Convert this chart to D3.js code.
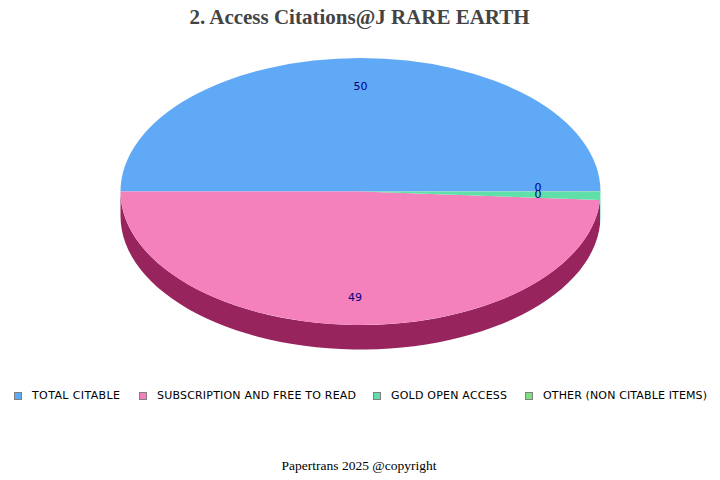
<!DOCTYPE html>
<html>
<head>
<meta charset="utf-8">
<script src="https://cdn.jsdelivr.net/npm/d3@7"></script>
<style>
body { margin: 0; background: #fff; }
</style>
</head>
<body>
<div id="chart"></div>
<script>
var categories = ["TOTAL CITABLE", "SUBSCRIPTION AND FREE TO READ", "GOLD OPEN ACCESS", "OTHER (NON CITABLE ITEMS)"];
var values = [50, 49, 0.95, 0.05];
var valueLabels = ["50", "49", "0", "0"];
var colors = ["#60A9F6", "#F480BC", "#60E0A8", "#80E080"];
var sideColors = ["#2f6fb0", "#98245E", "#60E0A8", "#80E080"];

var width = 720, height = 480;
var cx = 360.5, cy = 191.5, rx = 240, ry = 133.5, depth = 24.5;

var svg = d3.select("#chart")
    .append("svg")
    .attr("width", width)
    .attr("height", height)
    .style("display", "block");

// title + footer
svg.append("text")
    .text("2. Access Citations@J RARE EARTH")
    .attr("x", 359.5).attr("y", 24)
    .attr("text-anchor", "middle")
    .attr("font-family", "Liberation Serif")
    .attr("font-size", 21)
    .attr("font-weight", "bold")
    .attr("fill", "#444");

svg.append("text")
    .text("Papertrans 2025 @copyright")
    .attr("x", 359).attr("y", 470)
    .attr("text-anchor", "middle")
    .attr("font-family", "Liberation Serif")
    .attr("font-size", 13.5)
    .attr("fill", "#000");

// pie runs anticlockwise from the east
var pie = d3.pie().sort(null)
    .startAngle(Math.PI / 2)
    .endAngle(Math.PI / 2 - 2 * Math.PI);
var arcs = pie(values);

var sx = d3.scaleLinear().domain([-1, 1]).range([cx - rx, cx + rx]);
var sy = d3.scaleLinear().domain([-1, 1]).range([cy - ry, cy + ry]);

function pt(a) { return [sx(Math.sin(a)), sy(-Math.cos(a))]; }

function topPath(d) {
    var p0 = pt(d.startAngle), p1 = pt(d.endAngle);
    var large = Math.abs(d.endAngle - d.startAngle) > Math.PI ? 1 : 0;
    return "M" + cx + "," + cy + "L" + p0 + "A" + rx + "," + ry + " 0 " + large + " 0 " + p1 + "Z";
}

// side wall, only the part facing the viewer (lower half of the ellipse)
function sidePath(d) {
    var n = 60, pts = [], i, a;
    var a0 = Math.min(d.startAngle, d.endAngle), a1 = Math.max(d.startAngle, d.endAngle);
    var lo = Math.max(a0, -1.5 * Math.PI), hi = Math.min(a1, -0.5 * Math.PI);
    if (hi <= lo) return "";
    for (i = 0; i <= n; i++) {
        a = lo + (hi - lo) * i / n;
        pts.push(pt(a));
    }
    var top = pts.map(String).join("L");
    var bottom = pts.slice().reverse().map(function(p) { return p[0] + "," + (p[1] + depth); }).join("L");
    return "M" + top + "L" + bottom + "Z";
}

svg.append("g").selectAll("path")
    .data(arcs)
    .enter()
    .append("path")
    .attr("d", sidePath)
    .attr("fill", function(d, i) { return sideColors[i]; });

svg.append("g").selectAll("path")
    .data(arcs)
    .enter()
    .append("path")
    .attr("d", topPath)
    .attr("fill", function(d, i) { return colors[i]; });

// value labels
var labelNudge = [-1.5, 1.5, -0.5, -4.5];
svg.append("g").selectAll("text")
    .data(arcs)
    .enter()
    .append("text")
    .text(function(d, i) { return valueLabels[i]; })
    .attr("x", function(d) { return cx + Math.sin((d.startAngle + d.endAngle) / 2) * rx * 0.74; })
    .attr("y", function(d, i) { return cy - Math.cos((d.startAngle + d.endAngle) / 2) * ry * 0.78 + labelNudge[i] + 4; })
    .attr("text-anchor", "middle")
    .attr("font-family", "DejaVu Sans")
    .attr("font-size", 11)
    .attr("fill", "#000080");

// legend
var legendX = [14, 139, 373, 525];
var legendWidths = [88, 199, 116, 164];
var legend = svg.append("g").selectAll("g")
    .data(categories)
    .enter()
    .append("g")
    .attr("transform", function(d, i) { return "translate(" + legendX[i] + ",392)"; });

legend.append("rect")
    .attr("x", 0.5).attr("y", 0.5)
    .attr("width", 7).attr("height", 7)
    .attr("fill", function(d, i) { return colors[i]; })
    .attr("stroke", "#808080");

legend.append("text")
    .text(function(d) { return d; })
    .attr("x", 18).attr("y", 7)
    .attr("textLength", function(d, i) { return legendWidths[i]; })
    .attr("font-family", "DejaVu Sans")
    .attr("font-size", 11)
    .attr("fill", "#000");
</script>
</body>
</html>
